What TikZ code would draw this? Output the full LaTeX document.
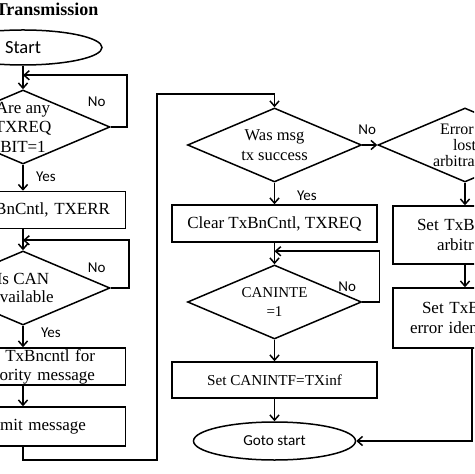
\documentclass[tikz,border=0pt]{standalone}
\usepackage{fontspec}
\setmainfont{Liberation Serif}
\newfontfamily\lblfont{Carlito}
\usetikzlibrary{arrows.meta}
\usetikzlibrary{calc}
\usetikzlibrary{shapes.geometric}

\begin{document}
\begin{tikzpicture}[x=0.5pt,y=-0.5pt,line width=0.75pt,
		>={Straight Barb[length=2.6pt,width=4.6pt]},
		font=\fontsize{8.5}{9.75}\selectfont]
		\tikzstyle{proc}=[draw,rectangle,minimum width=102.5pt,minimum height=18.5pt,inner sep=0pt]
		\tikzstyle{decide}=[draw,diamond,aspect=2.35,minimum width=87pt,minimum height=37pt,inner sep=-12pt,align=center]
		\tikzstyle{term}=[draw,ellipse,inner sep=0pt]
		\tikzstyle{lbl}=[inner sep=0pt,font=\lblfont\fontsize{7.5}{9}\selectfont]
		\tikzstyle{arr}=[->]
		
		\clip (0,0) rectangle (474,474);
		
		\node[anchor=base west,inner sep=0pt,font=\bfseries\fontsize{9}{11}\selectfont] (title) at (-5,16) {Transmission};
		
		% left column
		\node[term,minimum width=79pt,minimum height=17.5pt,font=\lblfont\fontsize{9.25}{11}\selectfont] (start) at (23,47.5) {Start};
		\node[decide] (d1) [below of=start,node distance=39.75pt] {Are any\\TXREQ\\BIT=1};
		\node[proc,text width=87pt,align=right] (b1) [below of=d1,node distance=41.5pt] {BnCntl, TXERR};
		\node[decide,font=\fontsize{8.5}{9}\selectfont] (d2) [below of=b1,node distance=39pt] {Is CAN\\available};
		\node[proc,text width=72pt,align=right,font=\fontsize{8.5}{9.5}\selectfont] (b2) [below of=d2,node distance=39.25pt] {e TxBncntl for\\ority message\hspace*{2pt}};
		\node[proc,text width=63pt,align=right,minimum height=19.5pt] (b3) [below of=b2,node distance=30pt] {mit message};
		
		% right column
		\node[decide,font=\fontsize{8.25}{10}\selectfont] (d3) at (274.5,145) {Was msg\\tx success};
		\node[proc] (b4) [below of=d3,node distance=39.25pt] {Clear TxBnCntl, TXREQ};
		\node[decide,font=\fontsize{7.5}{9.5}\selectfont] (d4) [below of=b4,node distance=39.25pt] {CANINTE\\=1};
		\node[proc,minimum height=18pt,font=\fontsize{7.6}{9}\selectfont] (b5) [below of=d4,node distance=39pt] {Set CANINTF=TXinf};
		\node[term,minimum width=81pt,minimum height=19pt,font=\lblfont\fontsize{7.6}{9}\selectfont] (g2) [below of=b5,node distance=30.5pt] {Goto start};
		
		\node[decide,text width=32pt,align=left,font=\fontsize{8}{8}\selectfont] (d5) [right of=d3,node distance=95.25pt] {\hspace*{3.5pt}Error\\\hspace*{10pt}lost\\arbitrat};
		\node[proc,minimum width=79pt,minimum height=29pt,text width=55pt,align=left,font=\fontsize{8.5}{10}\selectfont] (b6) [below of=d5,node distance=45pt,xshift=3.5pt] {Set TxB\\\hspace*{10pt}arbitr};
		\node[proc,minimum width=79pt,minimum height=30pt,text width=62pt,align=left,font=\fontsize{8.5}{10}\selectfont] (b7) [below of=b6,node distance=41.5pt] {\hspace*{6pt}Set TxB\\error iden};
		
		\coordinate (j1) at ($(d1.north)+(0,-14)$);
		\coordinate (j2) at ($(d2.north)+(0,-10)$);
		\coordinate (j4) at ($(d4.north)+(0,-13)$);
		\coordinate (up) at (157,94);
		
		\draw[arr] (start) -- (d1);
		\draw[arr] (d1) -- (b1);
		\draw[arr] (b1) -- (d2);
		\draw[arr] (d2) -- (b2);
		\draw[arr] (b2) -- (b3);
		\draw[arr] (d1.east) -- ++(16,0) |- (j1);
		\draw[arr] (d2.east) -- ++(18,0) |- (j2);
		\draw[arr] (b3.south) -- ++(0,13) -| (up) -| (d3.north);
		
		\draw[arr] (d3) -- (b4);
		\draw[arr] (b4) -- (d4);
		\draw[arr] (d4) -- (b5);
		\draw[arr] (b5) -- (g2);
		\draw[arr] (d4.east) -- ++(17,0) |- (j4);
		\draw[arr] (d3.east) -- (d5.west);
		\draw[arr] (d5.south) -- (d5.south |- b6.north);
		\draw[arr] (b6.south -| d5.south) -- (b7.north -| d5.south);
		\draw[arr] (b7.south) |- (g2.east);
		
		\node[lbl] (no1) at ($(d1.east)+(-14,-25)$) {No};
		\node[lbl] (yes1) at ($(d1.south)+(23,12)$) {Yes};
		\node[lbl] (no2) at ($(d2.east)+(-14,-20)$) {No};
		\node[lbl] (yes2) at ($(d2.south)+(28,7)$) {Yes};
		\node[lbl] (no3) at ($(d3.east)+(5,-15)$) {No};
		\node[lbl] (yes3) at ($(d3.south)+(32.5,13)$) {Yes};
		\node[lbl] (no4) at ($(d4.east)+(-15,-15)$) {No};
\end{tikzpicture}
\end{document}
